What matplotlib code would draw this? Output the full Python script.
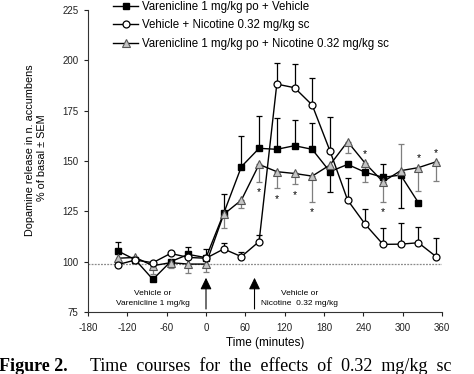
import numpy as np
import matplotlib
matplotlib.use("Agg")
import matplotlib.pyplot as plt

nan = np.nan

# ---------------- data ----------------
time_min = [-135, -108, -81, -54, -27, 0, 27, 54, 81, 108, 135, 162, 189, 216, 243, 270, 297, 324, 351]

vare_veh = [105.4, 101, 91.2, 100, 103.6, 102, 124, 147.2, 156.3, 155.8, 157.6, 155.8,
            144.7, 148.3, 144.4, 141.9, 143, 129.3, nan]
vare_veh_up = [4.2, nan, nan, nan, 3.8, 4.1, 9.5, 15, 16, 15.4, 12.8, 13.2,
               nan, nan, nan, 6.4, nan, nan, nan]
vare_veh_dn = [nan, nan, nan, nan, nan, nan, nan, nan, nan, nan, nan, nan,
               10, nan, nan, nan, 16.5, nan, nan]

veh_nic = [98.5, 100.8, 99.5, 104.1, 102.1, 101.7, 106.3, 102.5, 110, 188.2, 186.4, 177.8,
           155.1, 130.6, 118.5, 108.6, 108.7, 109.4, 102.5]
veh_nic_up = [nan, nan, nan, nan, nan, nan, 3.2, 2.5, 3.3, 10.6, 11.8, 13.2,
              17, 11.1, 7.6, 8.3, 10.3, 8, 9.1]

vare_nic = [101.7, 102.1, 98, 99.5, 98.8, 98.8, 123.5, 130.6, 148.3, 144.7, 143.8, 142.5,
            148, 159.6, 148.8, 139.7, 145.2, 146.7, 149.6]
vare_nic_dn = [nan, nan, 4, 2.8, 4.5, 4, 7, 4, 8.6, 8.3, 5.4, 12.7,
               nan, 5.5, 9.1, 9.9, nan, 11.5, 9.4]
vare_nic_up = [nan, nan, nan, nan, nan, nan, nan, nan, nan, nan, nan, nan,
               nan, nan, nan, nan, 13.1, nan, nan]

# significance stars on the Varenicline + Nicotine series (index, side)
stars_below = [8, 9, 10, 11, 15]
stars_above = [14, 17, 18]

labels = ["Varenicline 1 mg/kg po + Vehicle",
          "Vehicle + Nicotine 0.32 mg/kg sc",
          "Varenicline 1 mg/kg po + Nicotine 0.32 mg/kg sc"]

x_ticks = [-180, -120, -60, 0, 60, 120, 180, 240, 300, 360]
y_ticks = [75, 100, 125, 150, 175, 200, 225]
baseline = 99
arrow_times = [0, 74]
arrow_texts = ["Vehicle or\nVarenicline 1 mg/kg", "Vehicle or\nNicotine  0.32 mg/kg"]
arrow_text_x = [-81, 143]

# ---------------- figure ----------------
plt.rcParams['font.family'] = ['Liberation Sans', 'DejaVu Sans']
plt.rcParams['axes.unicode_minus'] = False
fig = plt.figure(figsize=(4.74, 3.74), dpi=100)
ax = fig.add_axes([88/474, 62/374, 354/474, 302/374])

t = np.array(time_min, float)
tri_gray = "#7f7f7f"

def arr(a):
    return np.array(a, float)

def one_sided(x, y, up, dn, color, z):
    y = arr(y)
    up = arr(up); dn = arr(dn)
    m = ~np.isnan(up)
    if m.any():
        ax.errorbar(x[m], y[m], yerr=[np.zeros(m.sum()), up[m]], fmt='none',
                    ecolor=color, elinewidth=0.9, capsize=2.2, capthick=0.9, zorder=z)
    m = ~np.isnan(dn)
    if m.any():
        ax.errorbar(x[m], y[m], yerr=[dn[m], np.zeros(m.sum())], fmt='none',
                    ecolor=color, elinewidth=0.9, capsize=2.2, capthick=0.9, zorder=z)

ax.axhline(baseline, color="#8a8a8a", lw=0.9, ls=(0, (1.5, 1.0)), zorder=1)

one_sided(t, vare_veh, vare_veh_up, vare_veh_dn, "black", 2)
one_sided(t, vare_nic, vare_nic_up, vare_nic_dn, tri_gray, 2)
one_sided(t, veh_nic, veh_nic_up, [nan]*len(t), "black", 2)

l1, = ax.plot(t, arr(vare_veh), color="black", lw=1.0, marker='s', ms=4.2,
              mfc="black", mec="black", zorder=3, label=labels[0])
l3, = ax.plot(t, arr(vare_nic), color="black", lw=1.0, marker='^', ms=5.5,
              mfc="#c4c4c4", mec="#555555", mew=0.8, zorder=4, label=labels[2])
l2, = ax.plot(t, arr(veh_nic), color="black", lw=1.0, marker='o', ms=5.0,
              mfc="white", mec="black", mew=0.9, zorder=5, label=labels[1])

vn = arr(vare_nic); vdn = arr(vare_nic_dn)
for i in stars_below:
    yb = vn[i] - (0 if np.isnan(vdn[i]) else vdn[i])
    ax.annotate("*", (t[i], yb), xytext=(0, -4), textcoords="offset points",
                ha="center", va="top", fontsize=7.5, zorder=6)
for i in stars_above:
    ax.annotate("*", (t[i], vn[i]), xytext=(0, 3), textcoords="offset points",
                ha="center", va="bottom", fontsize=7.5, zorder=6)

for at in arrow_times:
    ax.annotate("", xy=(at, 92), xytext=(at, 76.5),
                arrowprops=dict(arrowstyle="-|>,head_length=0.35,head_width=0.17",
                                mutation_scale=20, color="black", lw=0.8,
                                shrinkA=0, shrinkB=0))
for xt, txt in zip(arrow_text_x, arrow_texts):
    ax.text(xt, 81.5, txt, ha="center", va="center", fontsize=6, linespacing=1.6)

ax.set_xlim(-180, 360)
ax.set_ylim(75, 225)
ax.set_xticks(x_ticks)
ax.set_yticks(y_ticks)
ax.tick_params(axis='both', direction='out', length=3, width=0.8, labelsize=7, colors="#222222")
ax.tick_params(axis='x', pad=5)
ax.tick_params(axis='y', pad=4)
for s in ["top", "right"]:
    ax.spines[s].set_visible(False)
for s in ["left", "bottom"]:
    ax.spines[s].set_linewidth(0.8)
    ax.spines[s].set_color("#333333")

ax.set_xlabel("Time (minutes)", fontsize=8.5, labelpad=3)
fig.text(30/474, 1 - 150/374, "Dopamine release in n. accumbens", rotation=90,
         ha="center", va="center", fontsize=7.8)
fig.text(42/474, 1 - 158/374, "% of basal ± SEM", rotation=90,
         ha="center", va="center", fontsize=7.8)

ax.legend(handles=[l1, l2, l3], loc="upper left", bbox_to_anchor=(113/474, 0.997),
          bbox_transform=fig.transFigure, frameon=False, fontsize=8.3,
          handlelength=2.2, handletextpad=0.35, labelspacing=0.55, borderaxespad=0,
          borderpad=0)

fig.text(-0.003, 3/374, "Figure 2.", fontsize=13, fontweight="bold",
         family="Liberation Serif", ha="left", va="baseline")
fig.text(90/474, 3/374, "Time  courses  for  the  effects  of  0.32  mg/kg  sc", fontsize=13,
         family="Liberation Serif", ha="left", va="baseline")

fig.savefig("out.png", dpi=100)
